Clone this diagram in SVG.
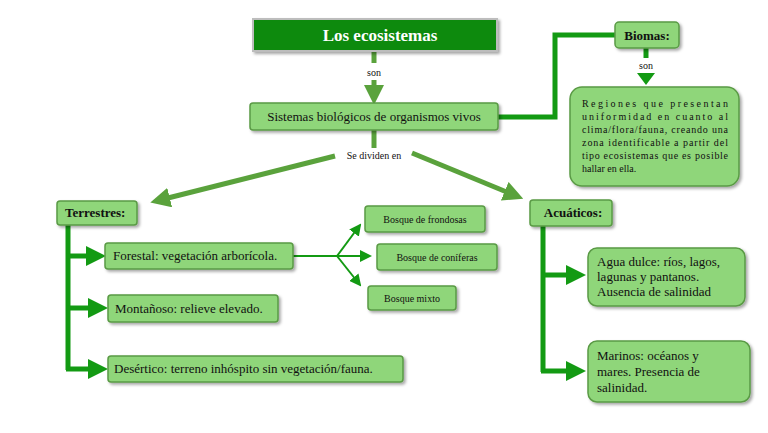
<svg xmlns="http://www.w3.org/2000/svg" width="768" height="433" viewBox="0 0 768 433">
<style>
.b{fill:#8fd67a;stroke:#5a9a45;stroke-width:1.5}
.t{font-family:"Liberation Serif",serif;font-size:13px;fill:#111}
.s{font-family:"Liberation Serif",serif;font-size:10px;fill:#111}
.k{stroke:#139a13;stroke-width:5;fill:none}
.l{stroke:#5aa23c;stroke-width:5;fill:none}
.n{stroke:#139a13;stroke-width:2;fill:none}
</style>
<defs>
<filter id="sh" x="-10%" y="-10%" width="130%" height="140%"><feDropShadow dx="2" dy="2" stdDeviation="1.5" flood-color="#000" flood-opacity="0.35"/></filter>
<marker id="ah" markerWidth="4" markerHeight="4" refX="2" refY="2" orient="auto" markerUnits="strokeWidth"><path d="M0,0 L4,2 L0,4 Z" fill="#139a13"/></marker>
<marker id="al" markerWidth="4" markerHeight="4" refX="2" refY="2" orient="auto" markerUnits="strokeWidth"><path d="M0,0 L4,2 L0,4 Z" fill="#5aa23c"/></marker>
<marker id="as" markerWidth="6" markerHeight="6" refX="5" refY="3" orient="auto" markerUnits="strokeWidth"><path d="M0,0 L6,3 L0,6 Z" fill="#139a13"/></marker>
</defs>
<rect width="768" height="433" fill="#fff"/>
<g id="connectors">
<line class="l" x1="374" y1="51" x2="374" y2="63"/>
<line class="l" x1="374" y1="80" x2="374" y2="95" marker-end="url(#al)"/>
<text class="s" x="374" y="76" text-anchor="middle">son</text>
<polyline class="k" points="498,117 555,117 555,35 615,35"/>
<line class="k" x1="646" y1="48" x2="646" y2="58"/>
<text class="s" x="646" y="69" text-anchor="middle">son</text>
<path d="M637,73 L655,73 L646,85 Z" fill="#139a13"/>
<line class="l" x1="374" y1="130" x2="374" y2="148"/>
<text class="s" x="374" y="159" text-anchor="middle">Se dividen en</text>
<line class="l" x1="335" y1="156" x2="160" y2="200" marker-end="url(#al)"/>
<line class="l" x1="412" y1="153" x2="514" y2="195" marker-end="url(#al)"/>
<polyline class="k" points="68,225 68,370"/>
<line class="k" x1="66" y1="256" x2="96" y2="256" marker-end="url(#ah)"/>
<line class="k" x1="66" y1="308" x2="98" y2="308" marker-end="url(#ah)"/>
<line class="k" x1="66" y1="369" x2="98" y2="369" marker-end="url(#ah)"/>
<line class="n" x1="293" y1="256" x2="337" y2="256"/>
<line class="n" x1="337" y1="256" x2="360" y2="225" marker-end="url(#as)"/>
<line class="n" x1="337" y1="256" x2="370" y2="256" marker-end="url(#as)"/>
<line class="n" x1="337" y1="256" x2="360" y2="285" marker-end="url(#as)"/>
<polyline class="k" points="543,226 543,372"/>
<line class="k" x1="541" y1="275" x2="576" y2="275" marker-end="url(#ah)"/>
<line class="k" x1="541" y1="371" x2="576" y2="371" marker-end="url(#ah)"/>
</g>
<g id="title"><rect x="253" y="19" width="244" height="32" fill="#0e8a0e" stroke="#bdbdbd" stroke-width="2" filter="url(#sh)"/><text x="380" y="41" text-anchor="middle" font-family="Liberation Serif,serif" font-size="17" font-weight="bold" fill="#fff">Los ecosistemas</text></g>
<g id="sistemas"><rect class="b" x="250" y="103" width="248" height="27" rx="3" filter="url(#sh)"/><text class="t" x="374" y="121" text-anchor="middle">Sistemas biológicos de organismos vivos</text></g>
<g id="biomas"><rect class="b" x="615" y="22" width="64" height="26" rx="4" filter="url(#sh)"/><text class="t" x="647" y="40" text-anchor="middle" font-weight="bold">Biomas:</text></g>
<g id="regiones"><rect class="b" x="570" y="87" width="169" height="99" rx="12" filter="url(#sh)"/>
<text class="s" font-size="9.5"><tspan x="582" y="107" textLength="146" lengthAdjust="spacing">Regiones que presentan</tspan><tspan x="582" y="120" textLength="146" lengthAdjust="spacing">uniformidad en cuanto al</tspan><tspan x="582" y="133" textLength="146" lengthAdjust="spacing">clima/flora/fauna, creando una</tspan><tspan x="582" y="146" textLength="146" lengthAdjust="spacing">zona identificable a partir del</tspan><tspan x="582" y="159" textLength="146" lengthAdjust="spacing">tipo ecosistemas que es posible</tspan><tspan x="582" y="172">hallar en ella.</tspan></text></g>
<g id="terrestres"><rect class="b" x="57" y="201" width="80" height="24" rx="3" filter="url(#sh)"/><text class="t" x="65" y="217" font-weight="bold">Terrestres:</text></g>
<g id="forestal"><rect class="b" x="105" y="243" width="188" height="26" rx="3" filter="url(#sh)"/><text class="t" x="113" y="260">Forestal: vegetación arborícola.</text></g>
<g id="montanoso"><rect class="b" x="108" y="295" width="170" height="27" rx="3" filter="url(#sh)"/><text class="t" x="115" y="313">Montañoso: relieve elevado.</text></g>
<g id="desertico"><rect class="b" x="108" y="356" width="295" height="26" rx="3" filter="url(#sh)"/><text class="t" x="114" y="373">Desértico: terreno inhóspito sin vegetación/fauna.</text></g>
<g id="frondosas"><rect class="b" x="365" y="206" width="120" height="26" rx="3" filter="url(#sh)"/><text class="s" font-size="11.5" x="425" y="223" text-anchor="middle">Bosque de frondosas</text></g>
<g id="coniferas"><rect class="b" x="377" y="244" width="120" height="26" rx="3" filter="url(#sh)"/><text class="s" font-size="11.5" x="437" y="261" text-anchor="middle">Bosque de coníferas</text></g>
<g id="mixto"><rect class="b" x="368" y="286" width="88" height="24" rx="3" filter="url(#sh)"/><text class="s" font-size="11.5" x="412" y="302" text-anchor="middle">Bosque mixto</text></g>
<g id="acuaticos"><rect class="b" x="530" y="200" width="82" height="26" rx="3" filter="url(#sh)"/><text class="t" x="573" y="217" text-anchor="middle" font-weight="bold">Acuáticos:</text></g>
<g id="agua"><rect class="b" x="588" y="248" width="157" height="58" rx="9" filter="url(#sh)"/><text class="t"><tspan x="597" y="266">Agua dulce: ríos, lagos,</tspan><tspan x="597" y="281">lagunas y pantanos.</tspan><tspan x="597" y="296">Ausencia de salinidad</tspan></text></g>
<g id="marinos"><rect class="b" x="588" y="341" width="162" height="61" rx="9" filter="url(#sh)"/><text class="t"><tspan x="597" y="360">Marinos: océanos y</tspan><tspan x="597" y="376">mares. Presencia de</tspan><tspan x="597" y="392">salinidad.</tspan></text></g>
</svg>
